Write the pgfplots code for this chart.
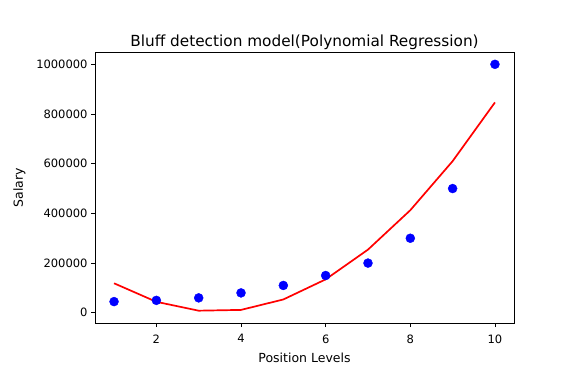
\documentclass[border=0pt]{standalone}
\usepackage{pgfplots}
\pgfplotsset{compat=1.18}
\usepackage{fontspec}
\setmainfont{DejaVu Sans}
\begin{document}
\begin{tikzpicture}[x=1bp,y=1bp]
\path (0,0) rectangle (570,377);
\begin{axis}[
  at={(95bp,54bp)}, anchor=south west,
  scale only axis, width=419bp, height=271bp,
  xmin=0.55, xmax=10.45, ymin=-41139, ymax=1049578,
  xtick={2,4,6,8,10},
  ytick={0,200000,400000,600000,800000,1000000},
  scaled y ticks=false,
  /pgf/number format/fixed, /pgf/number format/1000 sep={},
  /pgf/number format/assume math mode=true,
  tick align=outside, tick pos=left,
  major tick length=4bp,
  tick style={black, line width=0.9bp},
  axis line style={line width=0.9bp},
  ticklabel style={font=\fontsize{11.5bp}{13bp}\selectfont},
  xticklabel style={yshift=-4bp},
  xlabel={Position Levels}, ylabel={Salary},
  label style={font=\fontsize{12.5bp}{14bp}\selectfont},
  xlabel style={yshift=-3bp},
  ylabel style={yshift=4bp},
  title={Bluff detection model(Polynomial Regression)},
  title style={font=\fontsize{15.3bp}{17bp}\selectfont, yshift=-7bp},
]
\addplot[only marks, mark=*, mark size=4.5bp, color=blue, mark options={draw=blue, fill=blue}] coordinates {
(1,45000) (2,50000) (3,60000) (4,80000) (5,110000) (6,150000) (7,200000) (8,300000) (9,500000) (10,1000000)
};
\addplot[color=red, line width=1.7bp] coordinates {
(1,118727.27) (2,44151.52) (3,8439.39) (4,11590.91) (5,53606.06) (6,134484.85) (7,254227.27) (8,412833.33) (9,610303.03) (10,846636.36)
};
\end{axis}
\end{tikzpicture}
\end{document}
